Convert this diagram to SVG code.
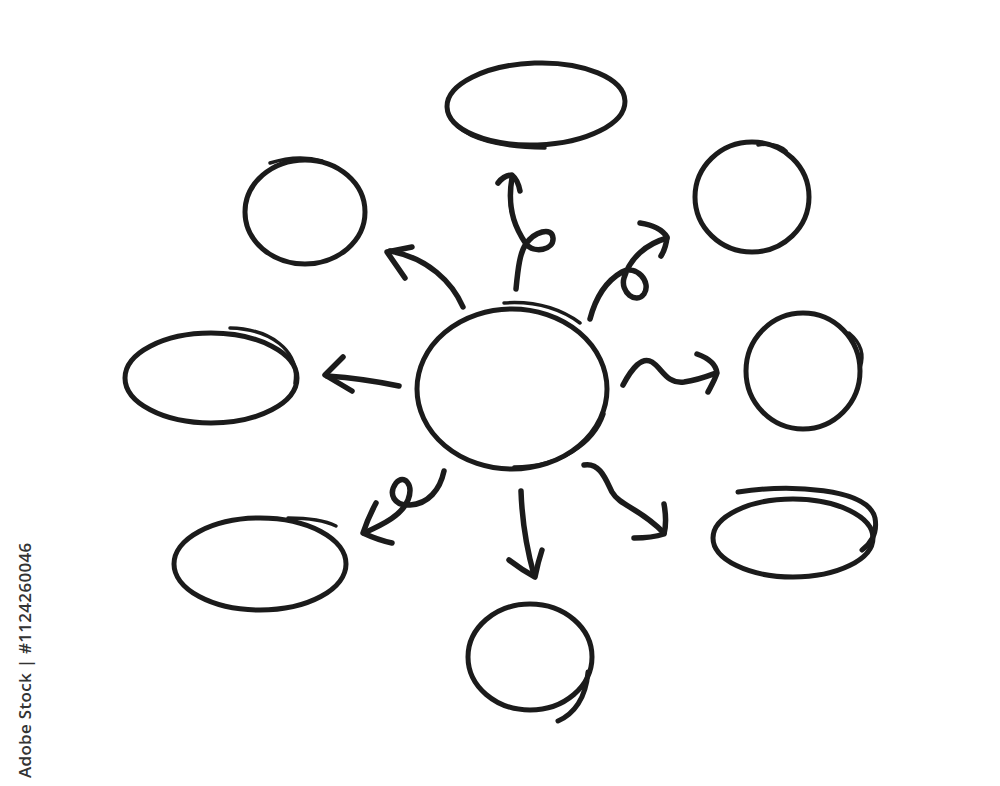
<svg xmlns="http://www.w3.org/2000/svg" width="1000" height="786" viewBox="0 0 1000 786">
<style>
.s{fill:none;stroke:#1b1b1b;stroke-width:5;stroke-linecap:round;stroke-linejoin:round}
.t{fill:none;stroke:#1b1b1b;stroke-width:3.5;stroke-linecap:round;stroke-linejoin:round}
.a{fill:none;stroke:#1b1b1b;stroke-width:5.5;stroke-linecap:round;stroke-linejoin:round}
.id{font-family:"Open Sans","DejaVu Sans",sans-serif;font-size:17px;font-weight:600;fill:#333;letter-spacing:0.3px}
</style>
<rect width="1000" height="786" fill="#fff"/>
<g id="center">
<ellipse class="s" cx="512" cy="389" rx="95" ry="80"/>
<path class="t" d="M504,303 C532,301 558,307 580,323"/>
<path class="t" d="M514,467 C560,467 594,444 604,414"/>
</g>
<g id="node-top">
<ellipse class="s" cx="536" cy="104" rx="89" ry="41" transform="rotate(-2 536 104)"/>
<path class="t" d="M449,116 Q466,147 545,148"/>
</g>
<g id="node-top-left">
<ellipse class="s" cx="305" cy="212" rx="60" ry="52"/>
<path class="t" d="M270,163 Q298,154 322,161"/>
</g>
<g id="node-top-right">
<ellipse class="s" cx="752" cy="197" rx="57" ry="55"/>
<path class="t" d="M758,145 Q776,142 786,151"/>
</g>
<g id="node-left">
<ellipse class="s" cx="211" cy="378" rx="86" ry="45"/>
<path class="t" d="M230,328 C270,329 300,350 295,383"/>
</g>
<g id="node-right">
<ellipse class="s" cx="803" cy="371" rx="57" ry="58"/>
<path class="t" d="M849,333 Q867,348 860,368"/>
</g>
<g id="node-bottom-left">
<ellipse class="s" cx="260" cy="564" rx="86" ry="46"/>
<path class="t" d="M288,518 Q320,518 336,526"/>
</g>
<g id="node-bottom-right">
<ellipse class="s" cx="793" cy="538" rx="80" ry="39"/>
<path class="s" d="M738,492 C790,484 868,488 875,518 C878,535 870,544 862,550"/>
</g>
<g id="node-bottom">
<ellipse class="s" cx="530" cy="657" rx="62" ry="53"/>
<path class="s" d="M588,672 C586,698 574,714 558,721"/>
</g>
<g id="connectors">
<path class="a" d="M463,307 C452,282 428,258 390,251"/>
<path class="a" d="M412,247 L387,252 L405,278"/>
<path class="a" d="M399,386 C380,382 356,378 327,376"/>
<path class="a" d="M343,357 L325,375 L352,391"/>
<path class="a" d="M516,289 C518,268 520,252 526,244 C534,232 552,226 553,238 C554,250 534,254 526,244 C518,232 506,212 512,178"/>
<path class="a" d="M498,183 Q504,175 512,175 Q518,180 520,191"/>
<path class="a" d="M590,319 C596,296 608,280 622,272 C636,264 652,282 644,294 C636,305 620,292 624,278 C630,258 646,244 667,238"/>
<path class="a" d="M640,223 Q660,226 667,237 Q666,248 661,256"/>
<path class="a" d="M623,385 C632,368 642,356 652,362 C662,368 666,384 684,382 C698,380 708,376 716,373"/>
<path class="a" d="M697,354 C708,358 716,364 717,373 C714,382 710,388 708,392"/>
<path class="a" d="M584,465 C600,462 606,480 612,492 C620,506 640,508 664,533"/>
<path class="a" d="M664,504 C666,515 666,526 664,534 C655,537 645,538 634,538"/>
<path class="a" d="M521,491 C522,520 527,550 534,575"/>
<path class="a" d="M509,560 Q522,570 535,577 Q538,562 542,550"/>
<path class="a" d="M444,471 C440,490 428,504 410,505 C394,506 388,494 396,483 C404,474 414,484 408,500 C402,515 384,524 364,533"/>
<path class="a" d="M376,503 Q368,518 363,533 Q378,540 392,543"/>
</g>
<text class="id" transform="translate(31,778) rotate(-90)">Adobe Stock | #1124260046</text>
</svg>
